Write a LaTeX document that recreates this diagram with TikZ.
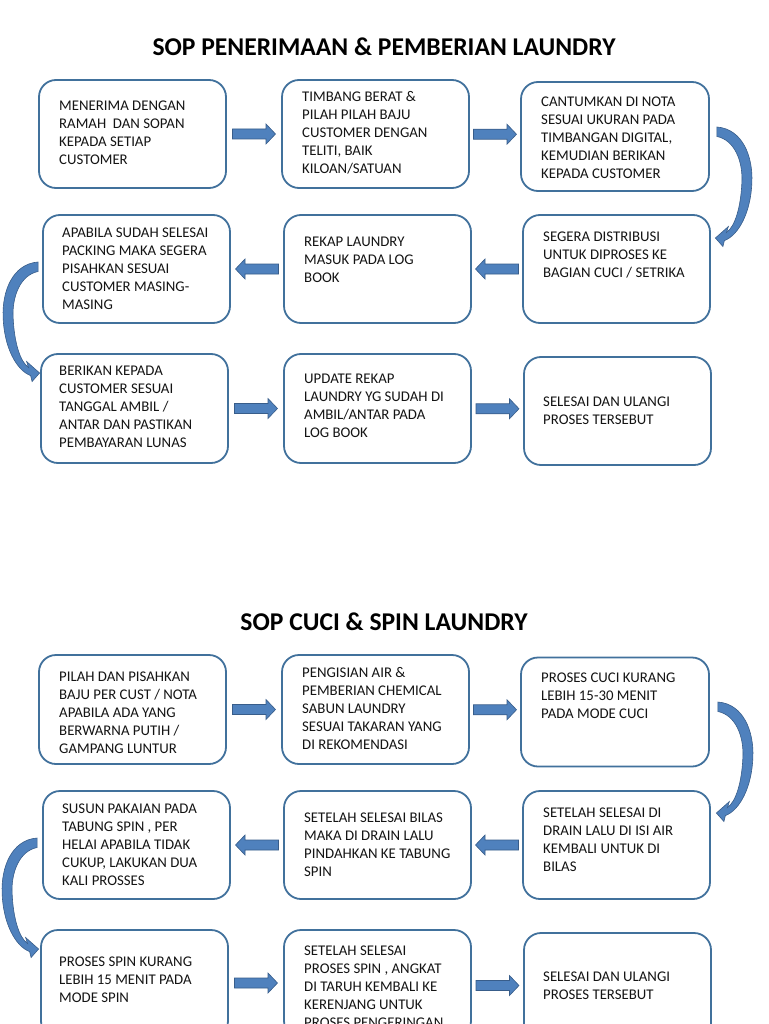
\documentclass[tikz,border=0pt]{standalone}
\usepackage{fontspec}
\setmainfont{Carlito}
\usetikzlibrary{calc}
\definecolor{boxblue}{HTML}{41719C}
\definecolor{arrfill}{HTML}{4F81BD}
\definecolor{arrline}{HTML}{385D8A}
\tikzset{
  stepbox/.style={draw=boxblue, line width=1.8pt, rounded corners=17pt, fill=white,
    minimum width=187pt, minimum height=108pt, inner sep=0pt},
  txt/.style={inner sep=0pt, font=\fontsize{14.8}{18}\selectfont, text=black!92, anchor=base west},
  ttl/.style={inner sep=0pt, font=\fontsize{25.6}{30}\selectfont\bfseries, text=black},
  arrstyle/.style={fill=arrfill, draw=arrline, line width=0.6pt},
  barrow/.pic={\filldraw[arrstyle] (-21.5,-5) -- (12,-5) -- (12,-10) -- (21.5,0) -- (12,10) -- (12,5) -- (-21.5,5) -- cycle;},
  carrow/.pic={\filldraw[arrstyle] (0,5) .. controls (-26,3) and (-36,-25) .. (-35,-50)
      .. controls (-34,-80) and (-22,-103) .. (-7.5,-108.6) -- (-6,-114.5) -- (1.5,-106) -- (-11.5,-94.5) -- (-9.5,-100.5)
      .. controls (-18,-95) and (-24,-75) .. (-25,-50) .. controls (-26,-30) and (-18,-8) .. (0,-4.5) -- cycle;}
}
\newcommand\btext[4]{\node[txt] (#1) at (#2,{-(#3+4.5)}) {\begin{tabular}[t]{@{}l@{}}#4\end{tabular}};}
\begin{document}
\begin{tikzpicture}[x=1pt,y=1pt]
\useasboundingbox (0,0) rectangle (768,-1024);
\clip (0,0) rectangle (768,-1024);
\fill[white] (0,0) rectangle (768,-1024);

% ---------- Section 1 ----------
\node[ttl] (t1) at (384,-47) {SOP PENERIMAAN \& PEMBERIAN LAUNDRY};

\node[stepbox] (a) at (132.5,-134) {};
\node[stepbox] (b) at (375.5,-134) {};
\node[stepbox, minimum width=188pt, minimum height=109pt] (c) at (615,-136.5) {};
\node[stepbox] (d) at (136.5,-269) {};
\node[stepbox] (e) at (377.5,-269) {};
\node[stepbox] (f) at (616.5,-269) {};
\node[stepbox, minimum height=109pt] (g) at (134.5,-408.5) {};
\node[stepbox, minimum height=109pt] (h) at (377.5,-408.5) {};
\node[stepbox] (i) at (617.5,-411) {};

\btext{ta}{59}{106}{MENERIMA DENGAN\\RAMAH\ \ DAN SOPAN\\KEPADA SETIAP\\CUSTOMER}
\btext{tb}{302}{97}{TIMBANG BERAT \&\\PILAH PILAH BAJU\\CUSTOMER DENGAN\\TELITI, BAIK\\KILOAN/SATUAN}
\btext{tc}{541}{102}{CANTUMKAN DI NOTA\\SESUAI UKURAN PADA\\TIMBANGAN DIGITAL,\\KEMUDIAN BERIKAN\\KEPADA CUSTOMER}
\btext{td}{62}{233}{APABILA SUDAH SELESAI\\PACKING MAKA SEGERA\\PISAHKAN SESUAI\\CUSTOMER MASING-\\MASING}
\btext{te}{304}{242}{REKAP LAUNDRY\\MASUK PADA LOG\\BOOK}
\btext{tf}{543}{237}{SEGERA DISTRIBUSI\\UNTUK DIPROSES KE\\BAGIAN CUCI / SETRIKA}
\btext{tg}{59}{371}{BERIKAN KEPADA\\CUSTOMER SESUAI\\TANGGAL AMBIL /\\ANTAR DAN PASTIKAN\\PEMBAYARAN LUNAS}
\btext{th}{304}{379}{UPDATE REKAP\\LAUNDRY YG SUDAH DI\\AMBIL/ANTAR PADA\\LOG BOOK}
\btext{ti}{543}{402}{SELESAI DAN ULANGI\\PROSES TERSEBUT}

\pic at ($(a.east)!0.5!(b.west)$) {barrow};
\pic at ($(b.east)!0.5!(c.west)+(0,1)$) {barrow};
\pic[xscale=-1] at ($(e.west)!0.5!(f.east)$) {barrow};
\pic[xscale=-1] at ($(d.east)!0.5!(e.west)$) {barrow};
\pic at ($(g.east)!0.5!(h.west)$) {barrow};
\pic at ($(h.east)!0.5!(i.west)+(0,1)$) {barrow};
\coordinate (cs1) at ($(c.east)+(7,4.5)$);
\coordinate (ds1) at ($(d.west)+(-4,2)$);
\pic[xscale=-1] at (cs1) {carrow};
\pic at (ds1) {carrow};

% ---------- Section 2 ----------
\node[ttl] (t2) at (384,-622) {SOP CUCI \& SPIN LAUNDRY};

\node[stepbox, minimum height=109pt] (a2) at (132.5,-709.5) {};
\node[stepbox, minimum height=109pt] (b2) at (375.5,-709.5) {};
\node[stepbox, minimum width=188pt, minimum height=109pt] (c2) at (615,-712) {};
\node[stepbox] (d2) at (136.5,-845) {};
\node[stepbox] (e2) at (377.5,-845) {};
\node[stepbox] (f2) at (616.5,-845) {};
\node[stepbox] (g2) at (134.5,-984) {};
\node[stepbox] (h2) at (377.5,-984) {};
\node[stepbox] (i2) at (617.5,-987) {};

\btext{ta2}{59}{677}{PILAH DAN PISAHKAN\\BAJU PER CUST / NOTA\\APABILA ADA YANG\\BERWARNA PUTIH /\\GAMPANG LUNTUR}
\btext{tb2}{302}{673}{PENGISIAN AIR \&\\PEMBERIAN CHEMICAL\\SABUN LAUNDRY\\SESUAI TAKARAN YANG\\DI REKOMENDASI}
\btext{tc2}{541}{678}{PROSES CUCI KURANG\\LEBIH 15-30 MENIT\\PADA MODE CUCI}
\btext{td2}{62}{809}{SUSUN PAKAIAN PADA\\TABUNG SPIN , PER\\HELAI APABILA TIDAK\\CUKUP, LAKUKAN DUA\\KALI PROSSES}
\btext{te2}{304}{818}{SETELAH SELESAI BILAS\\MAKA DI DRAIN LALU\\PINDAHKAN KE TABUNG\\SPIN}
\btext{tf2}{543}{813}{SETELAH SELESAI DI\\DRAIN LALU DI ISI AIR\\KEMBALI UNTUK DI\\BILAS}
\btext{tg2}{59}{962}{PROSES SPIN KURANG\\LEBIH 15 MENIT PADA\\MODE SPIN}
\btext{th2}{304}{951}{SETELAH SELESAI\\PROSES SPIN , ANGKAT\\DI TARUH KEMBALI KE\\KERENJANG UNTUK\\PROSES PENGERINGAN}
\btext{ti2}{543}{977}{SELESAI DAN ULANGI\\PROSES TERSEBUT}

\pic at ($(a2.east)!0.5!(b2.west)$) {barrow};
\pic at ($(b2.east)!0.5!(c2.west)+(0,1)$) {barrow};
\pic[xscale=-1] at ($(e2.west)!0.5!(f2.east)$) {barrow};
\pic[xscale=-1] at ($(d2.east)!0.5!(e2.west)$) {barrow};
\pic at ($(g2.east)!0.5!(h2.west)+(0,1)$) {barrow};
\pic at ($(h2.east)!0.5!(i2.west)$) {barrow};
\coordinate (cs2) at ($(c2.east)+(8,5)$);
\coordinate (ds2) at ($(d2.west)+(-5,2)$);
\pic[xscale=-1] at (cs2) {carrow};
\pic at (ds2) {carrow};
\end{tikzpicture}
\end{document}
